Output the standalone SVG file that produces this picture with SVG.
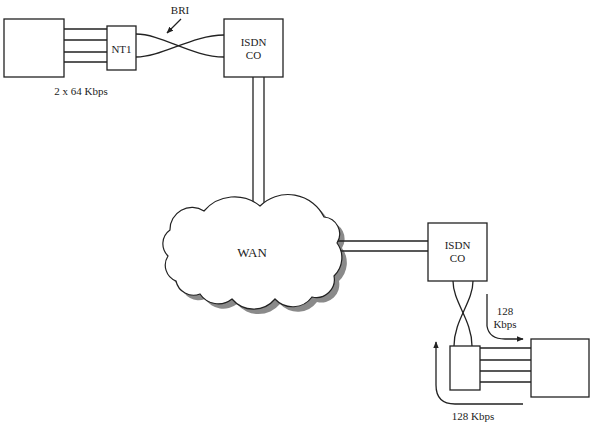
<svg xmlns="http://www.w3.org/2000/svg" width="597" height="424" viewBox="0 0 597 424">
<style>
.box{fill:#fff;stroke:#222;stroke-width:1.3}
.ln{fill:none;stroke:#222;stroke-width:1.3}
.t{font-family:"Liberation Serif","Times New Roman",serif;font-size:11px;fill:#222;text-anchor:middle}
</style>
<defs>
<marker id="ah" viewBox="0 0 10 10" refX="9" refY="5" markerWidth="7" markerHeight="7" markerUnits="userSpaceOnUse" orient="auto">
<path d="M0,1 L10,5 L0,9 Z" fill="#222"/>
</marker>
<path id="cloudShape" d="M170,230 A22,22 0 0 1 204,211 A40,40 0 0 1 260,206 A40,40 0 0 1 324,217 A17,17 0 0 1 337,243 A25,25 0 0 1 334,276 A18,18 0 0 1 312,297 A24,24 0 0 1 275,299 A28,28 0 0 1 232,299 A22,22 0 0 1 200,294 A18,18 0 0 1 176,281 A17,17 0 0 1 168,256 A17,17 0 0 1 170,230 Z"/>
</defs>
<rect width="597" height="424" fill="#fff"/>
<g id="connectors">
<path class="ln" d="M64,29 H107 M64,40 H107 M64,52 H107 M64,62 H107"/>
<path class="ln" d="M136,34 C162,34 192,57 224,57"/>
<path class="ln" d="M136,57 C162,57 192,35 224,35"/>
<path class="ln" d="M181,19 L167,33" marker-end="url(#ah)"/>
<path class="ln" d="M253,77 V215 M264,77 V215"/>
<use href="#cloudShape" transform="translate(5,5)" fill="#8a8a8a"/>
<path class="ln" d="M330,241 H428 M330,251 H428"/>
<path class="ln" d="M453,281 C453,302 472,320 472,346"/>
<path class="ln" d="M473,281 C473,302 454,320 454,346"/>
<path class="ln" d="M480,348 H531 M480,360 H531 M480,371 H531 M480,382 H531"/>
<path class="ln" d="M487,294 L487,326 Q489,339 505,339 L523,339" marker-end="url(#ah)"/>
<path class="ln" d="M523,404 L455,404 Q436,404 436,385 L436,342" marker-end="url(#ah)"/>
</g>
<g id="pc1"><rect class="box" x="4" y="19" width="60" height="58"/></g>
<g id="nt1"><rect class="box" x="107" y="26" width="29" height="44"/><text class="t" x="121.5" y="53">NT1</text></g>
<g id="bri-label"><text class="t" x="180" y="14">BRI</text></g>
<g id="rate1"><text class="t" x="81" y="95">2 x 64 Kbps</text></g>
<g id="isdn-co-1"><rect class="box" x="224" y="19" width="59" height="58"/><text class="t" x="253.5" y="46">ISDN</text><text class="t" x="253.5" y="59">CO</text></g>
<g id="wan"><use href="#cloudShape" fill="#fff" stroke="#222" stroke-width="1.2"/><text class="t" x="252" y="257" style="font-size:13px">WAN</text></g>
<g id="isdn-co-2"><rect class="box" x="428" y="223" width="59" height="58"/><text class="t" x="457.5" y="249">ISDN</text><text class="t" x="457.5" y="262">CO</text></g>
<g id="nt1-2"><rect class="box" x="450" y="346" width="30" height="44"/></g>
<g id="pc2"><rect class="box" x="531" y="339" width="58" height="58"/></g>
<g id="rate-down"><text class="t" x="505" y="315">128</text><text class="t" x="505" y="328">Kbps</text></g>
<g id="rate-up"><text class="t" x="473" y="420">128 Kbps</text></g>
</svg>
